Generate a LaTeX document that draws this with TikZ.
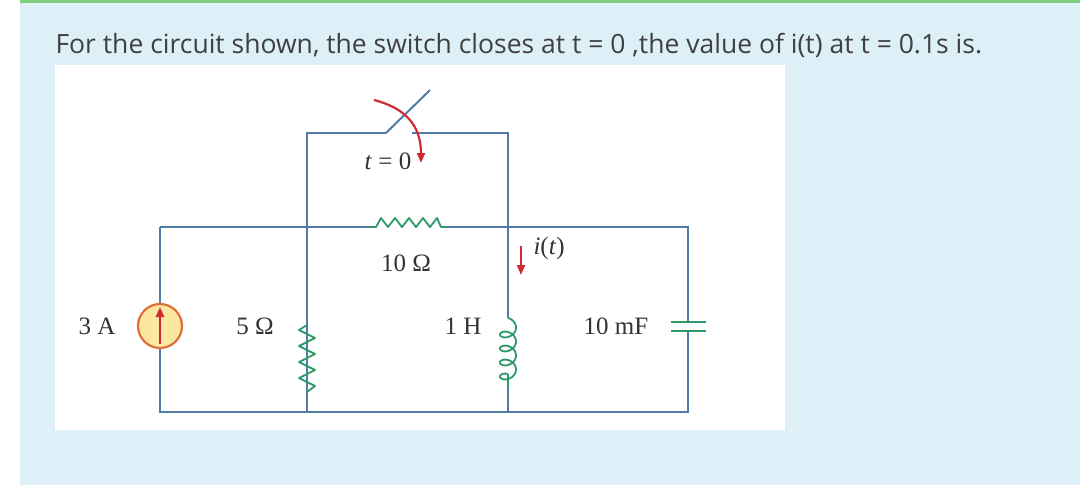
\documentclass[tikz,border=0pt]{standalone}
\usepackage{fontspec}
\setmainfont{Liberation Serif}
\newfontfamily\headfont{Open Sans}
\usetikzlibrary{arrows.meta}
\definecolor{bgblue}{HTML}{DDF0F7}
\definecolor{wire}{HTML}{4F7BA6}
\definecolor{elem}{HTML}{2E9A6A}
\definecolor{redarr}{HTML}{D02A35}
\definecolor{srcfill}{HTML}{FBE7A0}
\definecolor{srcline}{HTML}{E0703A}
\begin{document}
\begin{tikzpicture}[x=1pt,y=-1pt,
  w/.style={draw=wire,line width=2pt},
  el/.style={draw=elem,line width=1.8pt,line join=round},
  lab/.style={font=\fontsize{25}{28}\selectfont,text=black!80},
  ra/.style={draw=redarr,line width=2.2pt,-{Triangle[length=10pt,width=8pt]}}]
\useasboundingbox (0,0) rectangle (1080,485);
\fill[white] (0,0) rectangle (1080,485);
\fill[bgblue] (20,0) rectangle (1080,485);
\fill[green!45!gray!70] (20,0) rectangle (1080,3);
\fill[white] (55,65) rectangle (785,430);
\node[anchor=west,font=\headfont\fontsize{26.5}{30}\selectfont,text=black!75] (q) at (52,45) {For the circuit shown, the switch closes at t = 0 ,the value of i(t) at t = 0.1s is.};
\node[anchor=west,font=\headfont\fontsize{26.5}{30}\selectfont,text=black!75] (sel) at (52,497) {Select one:};
% coordinates
\coordinate (tl) at (160,227); \coordinate (bl) at (160,412);
\coordinate (ta) at (307,227); \coordinate (ba) at (307,412);
\coordinate (tb) at (508,227); \coordinate (bb) at (508,412);
\coordinate (tr) at (688,227); \coordinate (br) at (688,412);
\coordinate (sa) at (307,133); \coordinate (sb) at (508,133);
\coordinate (s1) at (386,133); \coordinate (s2) at (430,90); \coordinate (s3) at (412,133);
% wires
\draw[w] (s1) -- (sa) -- (ta) -- (ba);
\draw[w] (s3) -- (sb) -- (tb);
\draw[w] (s1) -- (s2);
\draw[w] (tl) -- (370,227); \draw[w] (445,227) -- (tr) -- (688,322);
\draw[w] (688,331) -- (br) -- (bl) -- (tl);
\draw[w] (tb) -- (508,318); \draw[w] (508,388) -- (bb);
\draw[w] (307,227) -- (307,325); \draw[w] (307,392) -- (ba);
% 10 ohm
\draw[el] (370,227) -- (376,227) -- (381,218) -- (388,227) -- (395,218) -- (402,227) -- (409,218) -- (416,227) -- (423,218) -- (430,227) -- (437,218) -- (441,227) -- (445,227);
\node[lab] (r10) at (406,263) {10 Ω};
% 5 ohm
\draw[el] (307,325) -- (299,330) -- (315,338) -- (299,346) -- (315,354) -- (299,362) -- (315,370) -- (299,378) -- (315,386) -- (307,392);
\node[lab] (r5) at (255,326) {5 Ω};
% inductor
\draw[el] plot[domain=0:4,samples=160,smooth] ({508+8*sin(\x*360)},{324-6*cos(\x*360)+14*\x});
\draw[el] (508,374) -- (508,388);
\node[lab] (l1) at (463,326) {1 H};
% capacitor
\draw[el] (671,322) -- (706,322); \draw[el] (671,331) -- (706,331);
\node[lab] (c1) at (616,326) {10 mF};
% source
\node[circle,draw=srcline,fill=srcfill,line width=2.2pt,minimum size=44pt] (src) at (160,326) {};
\draw[ra] (160,344) -- (160,307);
\node[lab] (s3a) at (97,326) {3 A};
% switch arrow
\draw[ra] (374,100) .. controls (405,108) and (421,125) .. (421,163);
\node[lab] (t0) at (388,161) {\textit{t} = 0};
% i(t)
\draw[ra] (521,246) -- (521,275);
\node[lab,anchor=west] (it) at (530,248) {\textit{i}(\textit{t})};
\end{tikzpicture}
\end{document}
